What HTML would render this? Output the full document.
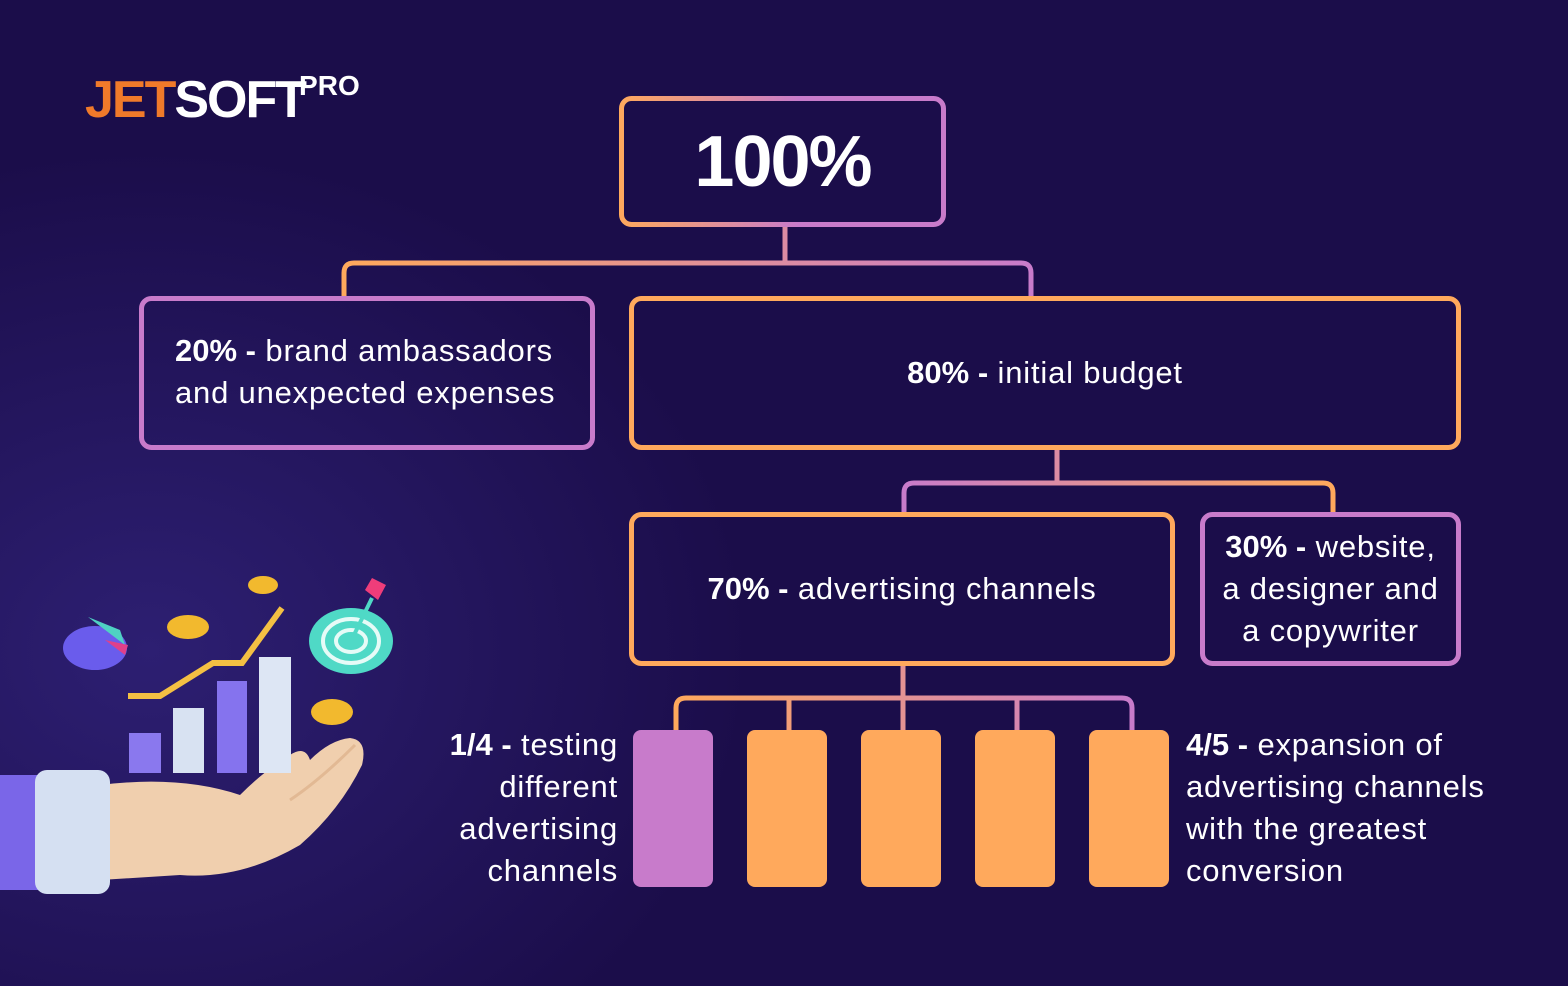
<!DOCTYPE html>
<html><head><meta charset="utf-8"><style>
html,body{margin:0;padding:0}
body{width:1568px;height:986px;overflow:hidden;position:relative;background:#1b0d4a;font-family:"Liberation Sans",sans-serif;color:#fff}
.bg{position:absolute;inset:0;background:radial-gradient(ellipse 600px 500px at 150px 650px,#2d1f72 0%,rgba(27,13,74,0) 100%)}
.t{position:absolute;font-size:31px;line-height:42px;letter-spacing:0.8px}
b{font-weight:bold;letter-spacing:0}
</style></head><body>
<div class="bg"></div>
<svg width="1568" height="986" style="position:absolute;left:0;top:0">
<defs>
<linearGradient id="g1" gradientUnits="userSpaceOnUse" x1="619" x2="946"><stop offset="0" stop-color="#ffa95c"/><stop offset="0.55" stop-color="#c87bcb"/></linearGradient>
<linearGradient id="g2" gradientUnits="userSpaceOnUse" x1="344" x2="1031"><stop offset="0" stop-color="#ffa95c"/><stop offset="1" stop-color="#c87bcb"/></linearGradient>
<linearGradient id="g3" gradientUnits="userSpaceOnUse" x1="904" x2="1333"><stop offset="0" stop-color="#c87bcb"/><stop offset="1" stop-color="#ffa95c"/></linearGradient>
<linearGradient id="g4" gradientUnits="userSpaceOnUse" x1="676" x2="1132"><stop offset="0" stop-color="#ffa95c"/><stop offset="1" stop-color="#c87bcb"/></linearGradient>
</defs>
<g fill="none" stroke-width="5">
<path d="M785 227V263M344 298V273Q344 263 354 263H1021Q1031 263 1031 273V298" stroke="url(#g2)"/>
<path d="M1057 450V483M904 514V493Q904 483 914 483H1323Q1333 483 1333 493V514" stroke="url(#g3)"/>
<path d="M903 666V698M676 730V708Q676 698 686 698H1122Q1132 698 1132 708V730M789 698V730M903 698V730M1017 698V730" stroke="url(#g4)"/>
<rect x="621.5" y="98.5" width="322" height="126" rx="10" stroke="url(#g1)"/>
<rect x="141.5" y="298.5" width="451" height="149" rx="10" stroke="#c87bcb"/>
<rect x="631.5" y="298.5" width="827" height="149" rx="10" stroke="#ffa95c"/>
<rect x="631.5" y="514.5" width="541" height="149" rx="10" stroke="#ffa95c"/>
<rect x="1202.5" y="514.5" width="256" height="149" rx="10" stroke="#c87bcb"/>
</g>
<rect x="633" y="730" width="80" height="157" rx="8" fill="#c87bcb"/>
<rect x="747" y="730" width="80" height="157" rx="8" fill="#ffa95c"/>
<rect x="861" y="730" width="80" height="157" rx="8" fill="#ffa95c"/>
<rect x="975" y="730" width="80" height="157" rx="8" fill="#ffa95c"/>
<rect x="1089" y="730" width="80" height="157" rx="8" fill="#ffa95c"/>
<g>
<path d="M0 775H60V890H0Z" fill="#7a66e8"/>
<path d="M100 785Q180 775 240 795Q265 770 290 755Q305 745 310 760Q330 740 350 738Q368 740 362 765Q340 810 300 845Q240 880 180 875L100 880Z" fill="#f0cfae"/>
<path d="M290 800Q320 780 355 745" stroke="#e2b994" stroke-width="3" fill="none"/>
<rect x="35" y="770" width="75" height="124" rx="12" fill="#d5e0f2"/>
<rect x="129" y="733" width="32" height="40" fill="#8a78ee"/>
<rect x="173" y="708" width="31" height="65" fill="#d8e2f2"/>
<rect x="217" y="681" width="30" height="92" fill="#8573ee"/>
<rect x="259" y="657" width="32" height="116" fill="#dde6f4"/>
<path d="M128 696H160L213 663H242L282 608" stroke="#f4c043" stroke-width="6" fill="none"/>
<ellipse cx="95" cy="648" rx="32" ry="22" fill="#6a5cec"/>
<path d="M88 617L120 630L125 645Z" fill="#4fd1c3"/>
<path d="M105 640L128 645L125 655Z" fill="#e0408a"/>
<ellipse cx="188" cy="627" rx="21" ry="12" fill="#f2b92e"/>
<ellipse cx="263" cy="585" rx="15" ry="9" fill="#f2b92e"/>
<ellipse cx="332" cy="712" rx="21" ry="13" fill="#f2b92e"/>
<ellipse cx="351" cy="641" rx="42" ry="33" fill="#4fd9c6"/>
<ellipse cx="351" cy="641" rx="28" ry="22" fill="none" stroke="#e6fbf7" stroke-width="4"/>
<ellipse cx="351" cy="641" rx="15" ry="11" fill="none" stroke="#e6fbf7" stroke-width="4"/>
<path d="M353 637L372 598" stroke="#4fd9c6" stroke-width="4"/>
<path d="M365 590L372 578L386 585L378 600Z" fill="#ef3d7a"/>
</g>
</svg>
<div style="position:absolute;left:85px;top:68px;font-size:52px;font-weight:bold;letter-spacing:-2px;line-height:64px"><span style="color:#f07a2a">JET</span>SOFT<span style="font-size:28px;position:relative;top:-22px;letter-spacing:0;margin-left:-6px">PRO</span></div>
<div class="t" style="left:619px;top:120px;width:327px;text-align:center;font-size:72px;line-height:84px;font-weight:bold;letter-spacing:-2px">100%</div>
<div class="t" style="left:175px;top:330px;white-space:nowrap"><b>20% -</b> brand ambassadors<br>and unexpected expenses</div>
<div class="t" style="left:629px;top:352px;width:832px;text-align:center"><b>80% -</b> initial budget</div>
<div class="t" style="left:629px;top:568px;width:546px;text-align:center"><b>70% -</b> advertising channels</div>
<div class="t" style="left:1195px;top:526px;width:271px;text-align:center;white-space:nowrap"><b>30% -</b> website,<br>a designer and<br>a copywriter</div>
<div class="t" style="left:380px;top:724px;width:238px;text-align:right"><b>1/4 -</b> testing<br>different<br>advertising<br>channels</div>
<div class="t" style="left:1186px;top:724px;white-space:nowrap"><b>4/5 -</b> expansion of<br>advertising channels<br>with the greatest<br>conversion</div>
</body></html>
